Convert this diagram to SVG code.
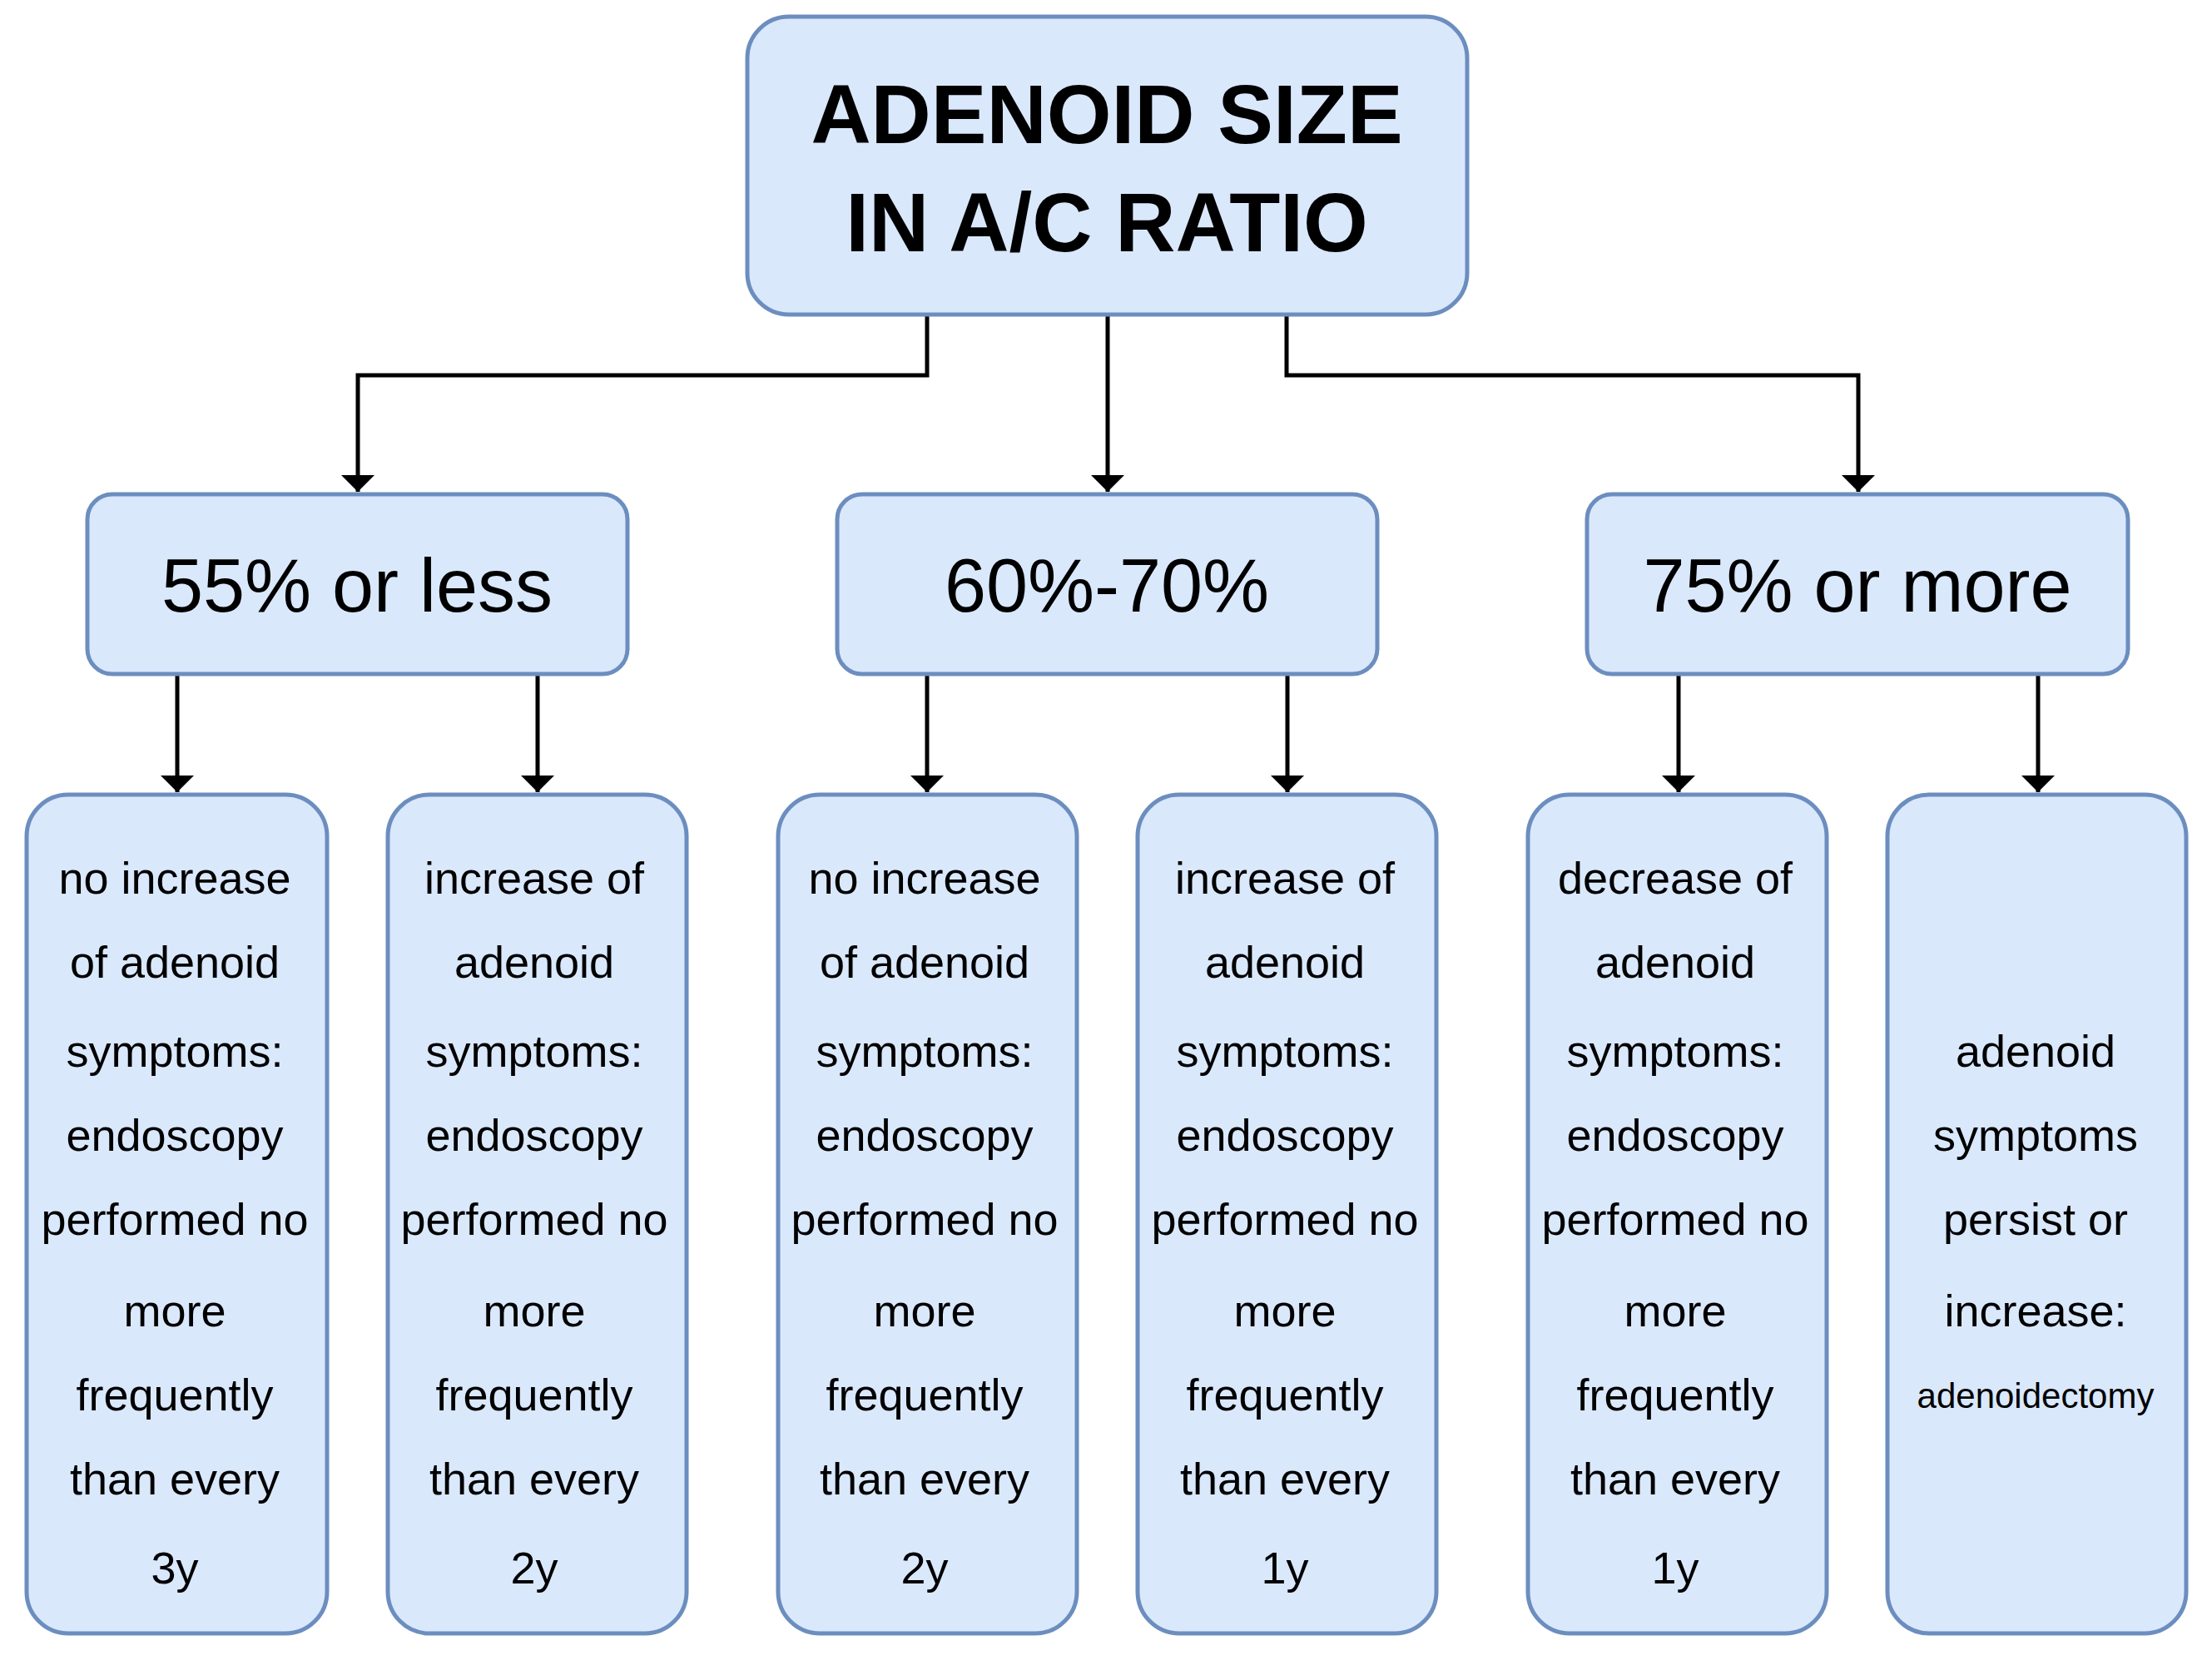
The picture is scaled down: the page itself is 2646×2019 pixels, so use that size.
<svg xmlns="http://www.w3.org/2000/svg" width="2646" height="2019" viewBox="0 0 2646 2019">
<defs>
<style>
.box{fill:#dae8fc;stroke:#6c8ebf;stroke-width:5}
.t{font-family:"Liberation Sans",Arial,sans-serif;text-anchor:middle;fill:#000}
.s{font-size:54px}
.c{fill:none;stroke:#000;stroke-width:5}
</style>
<marker id="a" viewBox="0 0 10 20" refX="10" refY="10" markerWidth="4" markerHeight="8" markerUnits="strokeWidth" orient="auto"><path d="M0,0L10,10L0,20Z" fill="#000"/></marker>
</defs>
<rect width="2646" height="2019" fill="#fff"/>
<g id="connectors">
<path class="c" d="M1114,378V451H430V591" marker-end="url(#a)"/>
<path class="c" d="M1331,378V591" marker-end="url(#a)"/>
<path class="c" d="M1546,378V451H2233V591" marker-end="url(#a)"/>
<path class="c" d="M213,812V952" marker-end="url(#a)"/>
<path class="c" d="M646,812V952" marker-end="url(#a)"/>
<path class="c" d="M1114,812V952" marker-end="url(#a)"/>
<path class="c" d="M1547,812V952" marker-end="url(#a)"/>
<path class="c" d="M2017,812V952" marker-end="url(#a)"/>
<path class="c" d="M2449,812V952" marker-end="url(#a)"/>
</g>
<g id="root"><rect class="box" x="898" y="20" width="865" height="358" rx="50"/>
<text class="t" x="1330" y="172" font-size="100" font-weight="bold">ADENOID SIZE</text>
<text class="t" x="1330" y="302" font-size="100" font-weight="bold">IN A/C RATIO</text></g>
<g id="m1"><rect class="box" x="105" y="594" width="649" height="216" rx="30"/><text class="t" x="429" y="735" font-size="90">55% or less</text></g>
<g id="m2"><rect class="box" x="1006" y="594" width="649" height="216" rx="30"/><text class="t" x="1330" y="735" font-size="90">60%-70%</text></g>
<g id="m3"><rect class="box" x="1907" y="594" width="650" height="216" rx="30"/><text class="t" x="2232" y="735" font-size="90">75% or more</text></g>
<g id="b1"><rect class="box" x="32" y="955" width="361" height="1008" rx="50"/>
<text class="t s"><tspan x="210" y="1074">no increase</tspan><tspan x="210" y="1175">of adenoid</tspan><tspan x="210" y="1282">symptoms:</tspan><tspan x="210" y="1383">endoscopy</tspan><tspan x="210" y="1484">performed no</tspan><tspan x="210" y="1594">more</tspan><tspan x="210" y="1695">frequently</tspan><tspan x="210" y="1796">than every</tspan><tspan x="210" y="1903">3y</tspan></text></g>
<g id="b2"><rect class="box" x="466" y="955" width="359" height="1008" rx="50"/>
<text class="t s"><tspan x="642" y="1074">increase of</tspan><tspan x="642" y="1175">adenoid</tspan><tspan x="642" y="1282">symptoms:</tspan><tspan x="642" y="1383">endoscopy</tspan><tspan x="642" y="1484">performed no</tspan><tspan x="642" y="1594">more</tspan><tspan x="642" y="1695">frequently</tspan><tspan x="642" y="1796">than every</tspan><tspan x="642" y="1903">2y</tspan></text></g>
<g id="b3"><rect class="box" x="935" y="955" width="359" height="1008" rx="50"/>
<text class="t s"><tspan x="1111" y="1074">no increase</tspan><tspan x="1111" y="1175">of adenoid</tspan><tspan x="1111" y="1282">symptoms:</tspan><tspan x="1111" y="1383">endoscopy</tspan><tspan x="1111" y="1484">performed no</tspan><tspan x="1111" y="1594">more</tspan><tspan x="1111" y="1695">frequently</tspan><tspan x="1111" y="1796">than every</tspan><tspan x="1111" y="1903">2y</tspan></text></g>
<g id="b4"><rect class="box" x="1367" y="955" width="359" height="1008" rx="50"/>
<text class="t s"><tspan x="1544" y="1074">increase of</tspan><tspan x="1544" y="1175">adenoid</tspan><tspan x="1544" y="1282">symptoms:</tspan><tspan x="1544" y="1383">endoscopy</tspan><tspan x="1544" y="1484">performed no</tspan><tspan x="1544" y="1594">more</tspan><tspan x="1544" y="1695">frequently</tspan><tspan x="1544" y="1796">than every</tspan><tspan x="1544" y="1903">1y</tspan></text></g>
<g id="b5"><rect class="box" x="1836" y="955" width="359" height="1008" rx="50"/>
<text class="t s"><tspan x="2013" y="1074">decrease of</tspan><tspan x="2013" y="1175">adenoid</tspan><tspan x="2013" y="1282">symptoms:</tspan><tspan x="2013" y="1383">endoscopy</tspan><tspan x="2013" y="1484">performed no</tspan><tspan x="2013" y="1594">more</tspan><tspan x="2013" y="1695">frequently</tspan><tspan x="2013" y="1796">than every</tspan><tspan x="2013" y="1903">1y</tspan></text></g>
<g id="b6"><rect class="box" x="2268" y="955" width="359" height="1008" rx="50"/>
<text class="t s"><tspan x="2446" y="1282">adenoid</tspan><tspan x="2446" y="1383">symptoms</tspan><tspan x="2446" y="1484">persist or</tspan><tspan x="2446" y="1594">increase:</tspan></text>
<text class="t" x="2446" y="1692" font-size="42">adenoidectomy</text></g>
</svg>
